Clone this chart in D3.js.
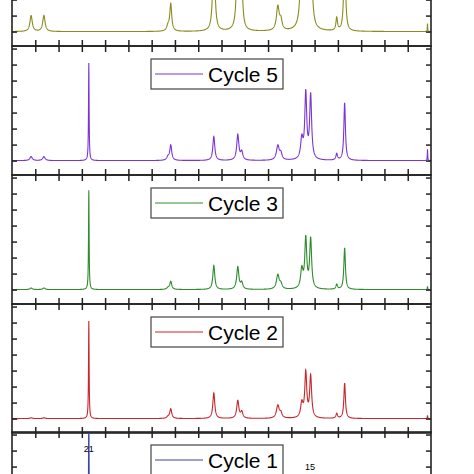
<!DOCTYPE html><html><head><meta charset="utf-8">
<script src="https://cdn.jsdelivr.net/npm/d3@7"></script>
<style>body{margin:0;background:#fff}</style></head><body><svg id="c" width="474" height="474"></svg>
<script>
const panelNames=["Cycle 7","Cycle 5","Cycle 3","Cycle 2","Cycle 1"];
const colors=["#8b8b1e","#7a35d6","#2e8b2e","#c8262a","#3b46a8"];
const showLegend=[false,true,true,true,true];
const peakPos=[0.82,1.37,3.30,6.70,6.82,8.67,9.70,9.87,11.42,11.55,12.45,12.62,12.83,13.95,14.29,17.85];
const hOlive=[1.0,1.0,0,0.3,1.7,6,6,2.5,1.5,0.6,6,8,8,0.8,6,0.5];
const hC5=[0.25,0.25,6.1,0.2,0.95,1.5,1.6,0.5,0.9,0.4,1.25,4.1,4.0,0.4,3.6,0.7];
const hC3=[0.1,0.1,6.2,0.1,0.5,1.5,1.4,0.4,0.9,0.3,1.2,3.1,3.1,0.3,2.6,0.2];
const hC2=[0.05,0.05,6.1,0.1,0.6,1.6,1.1,0.4,0.8,0.3,0.9,2.8,2.6,0.3,2.2,0.2];
const hC1=[0.05,0.05,9,0.1,0.6,1.6,1.1,0.4,0.8,0.3,0.9,3,2.8,0.3,2.4,0.2];
const heights=[hOlive,hC5,hC3,hC2,hC1];
const peakWidth=[0.06,0.06,0.015,0.06,0.05,0.05,0.055,0.055,0.07,0.06,0.06,0.05,0.05,0.04,0.04,0.01];
const svg=d3.select("#c");
const L=12,R=431,PH=129,tops=[-83,46,175,304,432];
const x=d3.scaleLinear().domain([0,18]).range([L,R]);
const grid=d3.range(0,18.001,0.005);
tops.forEach((t,i)=>{
  const y=d3.scaleLinear().domain([-0.9,7.16]).range([t+PH,t]);
  const g=svg.append("g");
  const cid="cl"+i;
  svg.append("clipPath").attr("id",cid).append("rect").attr("x",L).attr("y",t).attr("width",R-L).attr("height",PH);
  const h=heights[i];
  const data=grid.map(v=>[v,d3.sum(peakPos,(p,k)=>{const w=peakWidth[k];return h[k]*w*w/((v-p)*(v-p)+w*w);})]);
  g.append("path").datum(data).attr("clip-path",`url(#${cid})`).attr("fill","none").attr("stroke",colors[i]).attr("stroke-width",1.1)
   .attr("d",d3.line().x(d=>x(d[0])).y(d=>y(d[1])));
  const xb=d3.axisBottom(x).tickValues(d3.range(1,18)).tickSize(-6).tickFormat("");
  const xt=d3.axisTop(x).tickValues(d3.range(1,18)).tickSize(-6).tickFormat("");
  const yl=d3.axisLeft(y).tickValues(d3.range(0,8)).tickSize(-5).tickFormat("");
  const yr=d3.axisRight(y).tickValues(d3.range(0,8)).tickSize(-5).tickFormat("");
  [[xb,`translate(0,${t+PH})`],[xt,`translate(0,${t})`],[yl,`translate(${L},0)`],[yr,`translate(${R},0)`]].forEach(([a,tr])=>{
    const ag=g.append("g").attr("transform",tr).call(a);
    ag.select(".domain").remove();ag.selectAll("line").attr("stroke","#222").attr("stroke-width",1.5);
  });
  g.append("rect").attr("x",L).attr("y",t).attr("width",R-L).attr("height",PH).attr("fill","none").attr("stroke","#222").attr("stroke-width",1.6);
  if(showLegend[i]){
    const lg=svg.append("g").attr("transform",`translate(151,${t+13})`);
    lg.append("rect").attr("width",132).attr("height",30).attr("fill","#fff").attr("stroke","#444").attr("stroke-width",1.2);
    lg.append("line").attr("x1",4).attr("x2",52).attr("y1",15).attr("y2",15).attr("stroke",colors[i]).attr("stroke-width",1.2);
    lg.append("text").attr("x",57).attr("y",23).attr("font-family","Liberation Sans, Arial").attr("font-size",21).text(panelNames[i]);
  }
});
svg.append("text").attr("x",x(3.3)).attr("y",452).attr("text-anchor","middle").attr("font-family","Liberation Sans, Arial").attr("font-size",9).text("21");
svg.append("text").attr("x",310).attr("y",470).attr("text-anchor","middle").attr("font-family","Liberation Sans, Arial").attr("font-size",9).text("15");
</script></body></html>
